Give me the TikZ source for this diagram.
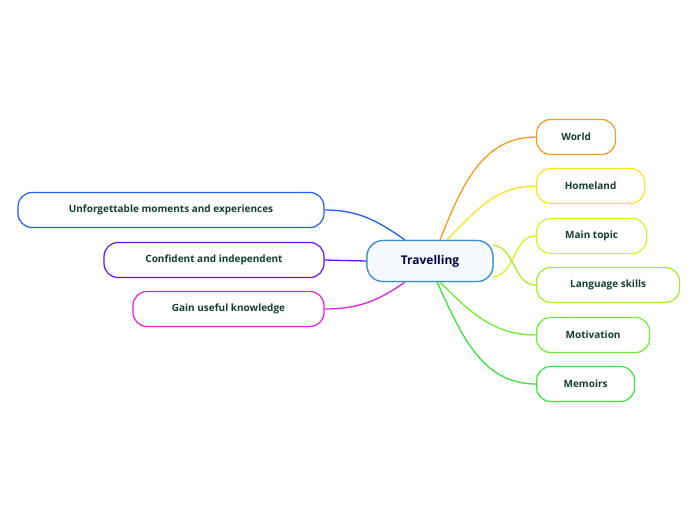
\documentclass[tikz,border=0pt]{standalone}
\usepackage{fontspec}
\setmainfont{Open Sans}
\begin{document}
\begin{tikzpicture}[x=1pt,y=-1pt,
  kid/.style={draw=#1,line width=1.2pt,rounded corners=14pt,fill=white,minimum height=35pt,inner xsep=0pt,text=txt,font=\bfseries\fontsize{10}{12}\selectfont,anchor=west},
  link/.style={draw=#1,line width=1.3pt}]
\definecolor{txt}{HTML}{12402F}
\definecolor{cO}{HTML}{F59B1C}\definecolor{cY}{HTML}{FFE31A}\definecolor{cMt}{HTML}{D8F21E}
\definecolor{cL}{HTML}{A5EE2A}\definecolor{cMo}{HTML}{6FEE30}\definecolor{cMe}{HTML}{38E63C}
\definecolor{cB}{HTML}{1F5CF2}\definecolor{cP}{HTML}{6A12E6}\definecolor{cG}{HTML}{E61EDD}
\definecolor{cC}{HTML}{3A8ED0}
\useasboundingbox (0,0) rectangle (696,520);
\node[draw=cC,line width=1.2pt,rounded corners=16pt,fill=cC!5,minimum width=126pt,minimum height=41pt,text=blue!30!black,font=\bfseries\fontsize{12}{14}\selectfont] (c) at (430,261) {Travelling};
\node[kid=cO,minimum width=79pt] (w) at (536,137) {World};
\node[kid=cY,minimum width=108pt] (h) at (536,186) {Homeland};
\node[kid=cMt,minimum width=110pt] (m) at (536,236) {Main topic};
\node[kid=cL,minimum width=143pt] (l) at (536,285) {Language skills};
\node[kid=cMo,minimum width=113pt] (mo) at (536,335) {Motivation};
\node[kid=cMe,minimum width=98pt] (me) at (536,384) {Memoirs};
\node[kid=cB,minimum width=306pt,anchor=center] (u) at (171,210) {Unforgettable moments and experiences};
\node[kid=cP,minimum width=220pt,anchor=center] (cf) at (214,260) {Confident and independent};
\node[kid=cG,minimum width=191pt,anchor=center] (g) at (228.5,309) {Gain useful knowledge};
\begin{scope}[on background layer/.style={}]
\end{scope}
\draw[link=cO] ([xshift=10pt]c.north) to[out=68,in=180] (w.west);
\draw[link=cY] ([xshift=17pt]c.north) to[out=45,in=180] (h.west);
\draw[link=cMt] ([yshift=-16pt]c.east) to[out=10,in=180] (m.west);
\draw[link=cL] ([yshift=16pt]c.east) to[out=-10,in=180] (l.west);
\draw[link=cMo] ([xshift=10pt]c.south) to[out=-45,in=180] (mo.west);
\draw[link=cMe] ([xshift=7pt]c.south) to[out=-65,in=180] (me.west);
\draw[link=cB] ([xshift=-25pt]c.north) to[out=145,in=0] (u.east);
\draw[link=cP] (c.west) -- (cf.east);
\draw[link=cG] ([xshift=-25pt]c.south) to[out=-145,in=0] (g.east);
\node[draw=cC,line width=1.2pt,rounded corners=16pt,fill=cC!5,minimum width=126pt,minimum height=41pt,text=blue!30!black,font=\bfseries\fontsize{12}{14}\selectfont] at (430,261) {Travelling};
\end{tikzpicture}
\end{document}
